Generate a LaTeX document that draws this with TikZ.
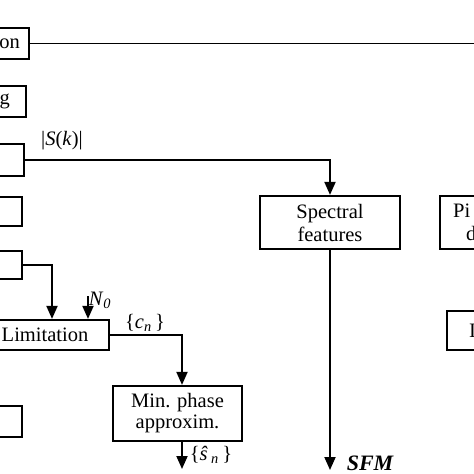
\documentclass[tikz,border=0pt]{standalone}
\usepackage{fontspec}
\setmainfont{Liberation Serif}
\usetikzlibrary{arrows.meta,calc}
\begin{document}
\begin{tikzpicture}[x=1pt,y=-1pt,
  box/.style={draw,line width=2.2pt,inner ysep=0pt,font=\fontsize{20.5}{21}\selectfont},
  conn/.style={line width=1.9pt},
  arr/.style={conn,-{Triangle[width=11pt,length=13pt]}},
  lbl/.style={inner sep=0pt,font=\fontsize{20.5}{21}\selectfont}]
\useasboundingbox (0,0) rectangle (474,474);
\clip (0,0) rectangle (474,474);
% left column boxes (mostly outside the picture)
\node[box,minimum width=109pt,minimum height=31pt,text width=91pt,inner xsep=9pt,align=right] (b1) at (-25.5,43.5) {on};
\node[box,minimum width=106pt,minimum height=31pt,text width=74pt,inner xsep=16pt,align=right] (b2) at (-27,101.5) {g};
\node[box,minimum width=104pt,minimum height=32pt] (b3) at (-28,160) {};
\node[box,minimum width=102pt,minimum height=29pt] (b4) at (-29,211.5) {};
\node[box,minimum width=102pt,minimum height=28pt] (b5) at (-29,265) {};
\node[box,minimum width=128pt,minimum height=30pt] (lim) at (45,335) {Limitation};
\node[box,minimum width=102pt,minimum height=31pt] (b6) at (-29,421.5) {};
\node[box,minimum width=129pt,minimum height=55pt,align=center] (min) at (177.5,413.5) {Min. phase\\approxim.};
\node[box,minimum width=140pt,minimum height=53pt,align=center,font=\fontsize{20.5}{23}\selectfont] (spec) at (330,222.5) {Spectral\\features};
\node[box,minimum width=121pt,minimum height=53pt,text width=95pt,inner xsep=13pt,align=left,anchor=west,font=\fontsize{20.5}{23}\selectfont] (pd) at (439,222.5) {Pi\\\hspace*{13pt}d};
\node[box,minimum width=114pt,minimum height=39pt,text width=70pt,inner xsep=22pt,align=left,anchor=west] (ib) at (446,330.5) {I};
% free ends
\coordinate (topend) at (480,43.5);
\coordinate (n0) at (88,296);
\coordinate (outs) at (182,469);
\coordinate (sfmend) at (330,470);
% connectors
\draw[conn] (b1.east) -- (topend);
\draw[arr] (b3.east) -| (spec.north);
\draw[arr] (b5.east) -| ([xshift=7pt]lim.north);
\draw[arr] (n0) -- ([xshift=43pt]lim.north);
\draw[arr] (lim.east) -| ([xshift=4.5pt]min.north);
\draw[arr] ([xshift=4.5pt]min.south) -- (outs);
\draw[arr] (spec.south) -- (sfmend);
% labels
\node[lbl] (lsk) at (62,141) {|\textit{S}(\textit{k})|};
\node[lbl] (ln0) at (100,300) {\textit{N}\textsubscript{\textit{0}}};
\node[lbl] (lcn) at (145,323) {\{\textit{c}\textsubscript{\textit{n}}\,\}};
\node[lbl] (lsn) at (211,455) {\{\textit{ŝ}\,\textsubscript{\textit{n}}\,\}};
\node[lbl,font=\fontsize{22}{22}\selectfont\bfseries\itshape] (lsfm) at (370,463) {SFM};
\end{tikzpicture}
\end{document}
